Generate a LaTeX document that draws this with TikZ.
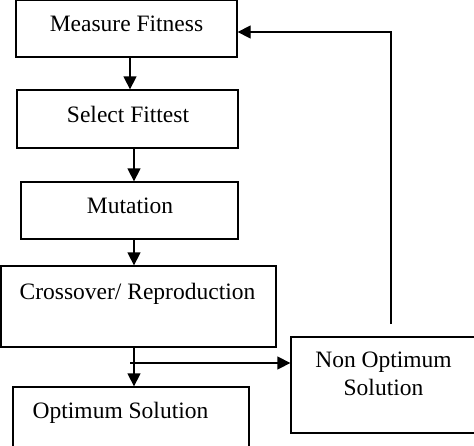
\documentclass[tikz,border=0pt]{standalone}
\usepackage{fontspec}
\setmainfont{Liberation Serif}
\usetikzlibrary{arrows.meta}
\begin{document}
\begin{tikzpicture}[x=1pt,y=-1pt,
  box/.style={draw=black, line width=1.3pt, inner sep=0pt, fill=none},
  txt/.style={inner sep=0pt, font=\fontsize{23.5}{28}\selectfont, text=black},
  arr/.style={line width=1.3pt, -{Triangle[length=13pt,width=13pt]}},
  ln/.style={line width=1.3pt}]
\useasboundingbox (0,0) rectangle (474,445);
% boxes
\node[box, minimum width=221pt, minimum height=56.3pt] (mf) at (126.5,28.85) {};
\node[box, minimum width=221pt, minimum height=58pt] (sf) at (127.5,119) {};
\node[box, minimum width=217pt, minimum height=57pt] (mut) at (129.5,210.5) {};
\node[box, minimum width=275pt, minimum height=81pt] (cross) at (138.5,306.5) {};
\node[box, minimum width=236pt, minimum height=68pt] (opt) at (131,421) {};
\node[box, minimum width=189pt, minimum height=96pt] (nonopt) at (385.5,385) {};
% texts
\node[txt, anchor=base] (mft) at (126.5,31.7) {Measure Fitness};
\node[txt, anchor=base] (sft) at (128,122.7) {Select Fittest};
\node[txt, anchor=base] (mutt) at (130,213.3) {Mutation};
\node[txt, anchor=base] (crosst) at (137.5,299) {Crossover/ Reproduction};
\node[txt, anchor=base] (optt) at (120.5,418.3) {Optimum Solution};
\node[txt, anchor=north, align=center] (nonoptt) at (383.5,352) {Non Optimum\\Solution};
% connectors
\draw[arr] (mf.south -| 130,0) -- (sf.north -| 130,0);
\draw[arr] (sf.south -| 134,0) -- (mut.north -| 134,0);
\draw[arr] (mut.south -| 134,0) -- (cross.north -| 134,0);
\draw[arr] (cross.south -| 134,0) -- (opt.north -| 134,0);
\coordinate (split) at (130,363);
\draw[arr] (split) -- (split -| nonopt.west);
\coordinate (fb) at (391,324);
\coordinate (fbtop) at (391,32);
\draw[arr] (fb) -- (fbtop) -- (fbtop -| mf.east);
\end{tikzpicture}
\end{document}
